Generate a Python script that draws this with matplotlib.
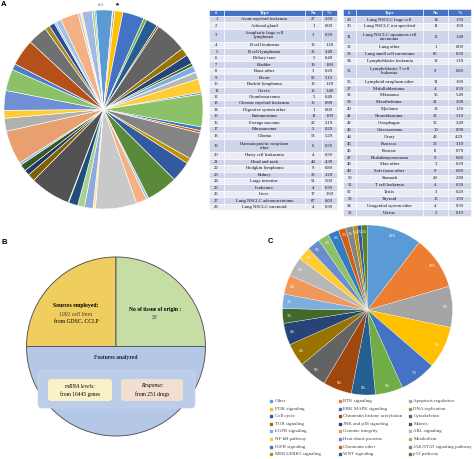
"""
Three-panel summary figure: cell-line tissue pie + tables (A),
dataset overview circle (B) and pathway pie with legend (C).
"""

import matplotlib

matplotlib.use("Agg")
import matplotlib.pyplot as plt
from matplotlib.patches import Wedge, FancyBboxPatch, Rectangle

W, H = 474, 459  # output size in pixels (dpi = 100)

SERIF = "Liberation Serif"
SANS = "Liberation Sans"

# ---------------------------------------------------------------------------
# Panel A: tissue of origin
# ---------------------------------------------------------------------------
tissue_types = [
    "Acute myeloid leukemia", "Adrenal gland", "Anaplastic large cell\nlymphoma",
    "B cell leukemia", "B cell lymphoma", "Biliary tract", "Bladder", "Bone other",
    "Breast", "Burkitt lymphoma", "Cervix", "Chondrosarcoma",
    "Chronic myeloid leukemia", "Digestive system other", "Endometrium",
    "Ewings sarcoma", "Fibrosarcoma", "Glioma", "Haematopoietic neoplasm\nother",
    "Hairy cell leukaemia", "Head and neck", "Hodgkin lymphoma", "Kidney",
    "Large intestine", "Leukemia", "Liver", "Lung NSCLC adenocarcinoma",
    "Lung NSCLC carcinoid", "Lung NSCLC large cell", "Lung NSCLC not specified",
    "Lung NSCLC squamous cell\ncarcinoma", "Lung other", "Lung small cell carcinoma",
    "Lymphoblastic leukemia", "Lymphoblastic T cell\nleukemia",
    "Lymphoid neoplasm other", "Medulloblastoma", "Melanoma", "Mesothelioma",
    "Myeloma", "Neuroblastoma", "Oesophagus", "Osteosarcoma", "Ovary", "Pancreas",
    "Prostate", "Rhabdomyosarcoma", "Skin other", "Soft tissue other", "Stomach",
    "T cell leukemia", "Testis", "Thyroid", "Urogenital system other", "Uterus",
]
tissue_counts = [
    27, 1, 3, 13, 35, 5, 19, 3, 52, 13, 15, 5, 10, 1, 11, 22, 3, 53, 6, 4,
    44, 9, 33, 51, 4, 17, 67, 4, 14, 11, 15, 1, 66, 12, 9, 11, 4, 55, 21, 13,
    32, 35, 10, 43, 32, 8, 9, 3, 9, 29, 4, 3, 16, 4, 2,
]
tissue_pct = [
    2.69, 0.09, 0.29, 1.29, 3.49, 0.49, 1.89, 0.29, 5.19, 1.29, 1.49, 0.49,
    0.99, 0.09, 1.09, 2.19, 0.29, 5.29, 0.59, 0.39, 4.39, 0.89, 3.29, 5.09,
    0.39, 1.69, 6.69, 0.39, 1.39, 1.09, 1.49, 0.09, 6.59, 1.19, 0.89, 1.09,
    0.39, 5.49, 2.09, 1.29, 3.19, 3.49, 0.99, 4.29, 3.19, 0.79, 0.89, 0.29,
    0.89, 2.89, 0.39, 0.29, 1.59, 0.39, 0.19,
]
tissue_colors = [
    "#5B9BD5", "#ED7D31", "#A5A5A5", "#FFC000", "#4472C4", "#70AD47",
    "#255E91", "#9E480E", "#636363", "#997300", "#264478", "#43682B",
    "#7CAFDD", "#F1975A", "#B7B7B7", "#FFCD33", "#698ED0", "#8CC168",
    "#327DC2", "#D26012", "#848484", "#BF9000", "#335AA1", "#5A8A39",
    "#9DC3E6", "#F4B183", "#C9C9C9", "#FFE699", "#8FAADC", "#A9D18E",
    "#1F4E79", "#843C0C", "#525252", "#7F6000", "#203864", "#385723",
    "#8CB4E0", "#E8A070", "#B0B0B0", "#FFCC33", "#6F8FD6", "#8CC168",
    "#4A7EC8", "#B5501A", "#707070", "#A88A20", "#2F4A8F", "#9CB8E0",
    "#9DC3E6", "#F4B183", "#C9C9C9", "#FFE699", "#A4B8E6", "#A9D18E",
    "#5B9BD5",
]

# ---------------------------------------------------------------------------
# Panel C: drug targets by pathway (share of drugs, %)
# ---------------------------------------------------------------------------
pathways = [
    "Other", "RTK signaling", "Apoptosis regulation",
    "PI3K signaling", "ERK MAPK signaling", "DNA replication",
    "Cell cycle", "Chromatin histone acetylation", "Cytoskeleton",
    "TOR signaling", "JNK and p38 signaling", "Mitosis",
    "EGFR signaling", "Genome integrity", "ABL signaling",
    "NF-kB pathway", "Heat shock proteins", "Metabolism",
    "IGFR signaling", "Chromatin other", "JAK/STAT signaling pathway",
    "MEK5/ERK5 signaling", "WNT signaling", "p53 pathway",
]
pathway_share = [
    10.5, 10.2, 7.9, 8.1, 7.0, 5.3, 4.6, 5.5, 5.5, 4.4, 4.2, 2.8,
    2.8, 3.7, 3.7, 2.5, 2.5, 2.1, 2.1, 1.4, 1.4, 0.8, 0.8, 1.2,
]
pathway_colors = [
    "#5B9BD5", "#ED7D31", "#A5A5A5", "#FFC000", "#4472C4", "#70AD47",
    "#255E91", "#9E480E", "#636363", "#997300", "#264478", "#43682B",
    "#7CAFDD", "#F1975A", "#B7B7B7", "#FFCD33", "#698ED0", "#8CC168",
    "#327DC2", "#D26012", "#848484", "#BF9000", "#335AA1", "#548235",
]


def pie_axes(fig, cx, cy, r):
    """Axes whose [-1, 1] box sits on a circle of radius r px at (cx, cy)."""
    return fig.add_axes([(cx - r) / W, 1 - (cy + r) / H, 2 * r / W, 2 * r / H])


def fit_pie(ax):
    # ax.pie pads the limits to +-1.25; pin them back to the unit circle
    ax.set_xlim(-1, 1)
    ax.set_ylim(-1, 1)
    ax.axis("off")


def draw_table(ax, first_id, names, counts, pcts, x_edges, y_top, unit):
    head_fc, row_a, row_b = "#4472C4", "#CFD5EA", "#E9EBF5"
    fs = 3.3
    for c, label in enumerate(["#", "Type", "No", "%"]):
        x0, x1 = x_edges[c], x_edges[c + 1]
        ax.add_patch(Rectangle((x0, y_top), x1 - x0, unit, fc=head_fc,
                               ec="white", lw=0.4))
        ax.text((x0 + x1) / 2, y_top + unit / 2, label, color="white",
                fontsize=fs, fontweight="bold", family=SERIF,
                ha="center", va="center")
    y = y_top + unit
    for k, name in enumerate(names):
        h = unit * (2 if "\n" in name else 1)
        fc = row_a if k % 2 == 0 else row_b
        cells = [str(first_id + k), name, str(counts[k]), f"{pcts[k]:.2f}"]
        for c, txt in enumerate(cells):
            x0, x1 = x_edges[c], x_edges[c + 1]
            ax.add_patch(Rectangle((x0, y), x1 - x0, h, fc=fc, ec="white",
                                   lw=0.4))
            ax.text((x0 + x1) / 2, y + h / 2, txt, fontsize=fs, family=SERIF,
                    ha="center", va="center", linespacing=1.0, color="#111111")
        y += h


fig = plt.figure(figsize=(W / 100, H / 100), dpi=100)
fig.patch.set_facecolor("white")

# Pixel-space overlay for tables, panel B and the legend.
ov = fig.add_axes([0, 0, 1, 1])
ov.set_xlim(0, W)
ov.set_ylim(H, 0)
ov.axis("off")

# --- Panel A --------------------------------------------------------------
axA = pie_axes(fig, 103.5, 109.5, 99.5)
axA.pie(tissue_counts, colors=tissue_colors, startangle=94.5,
        counterclock=False, wedgeprops=dict(edgecolor="white", linewidth=0.4))
fit_pie(axA)

ov.text(1, 5, "A", fontsize=5.5, fontweight="bold", family=SANS,
        ha="left", va="center")
ov.text(101.5, 4.5, "#:1", fontsize=3.5, family=SERIF, color="#555555",
        ha="center", va="center")
ov.annotate("", xy=(122, 6.2), xytext=(114.5, 3.2),
            arrowprops=dict(arrowstyle="-|>", lw=0.7, color="#222222",
                            mutation_scale=3))

draw_table(ov, 1, tissue_types[:28], tissue_counts[:28], tissue_pct[:28],
           [209, 223.7, 305, 321.7, 336.7], 9.5, 6.48)
draw_table(ov, 29, tissue_types[28:], tissue_counts[28:], tissue_pct[28:],
           [343, 356, 423, 448, 471], 9.2, 6.9)

# --- Panel B --------------------------------------------------------------
ov.text(2, 242, "B", fontsize=5.5, fontweight="bold", family=SANS,
        ha="left", va="center")
bx, by, br = 116, 346.5, 89.5
edge = "#5A5A5A"
ov.add_patch(Wedge((bx, by), br, 180, 270, fc="#EFCD5E", ec=edge, lw=0.7))
ov.add_patch(Wedge((bx, by), br, 270, 360, fc="#C6DDA6", ec=edge, lw=0.7))
ov.add_patch(Wedge((bx, by), br, 0, 180, fc="#B4C7E7", ec=edge, lw=0.7))

ov.text(76, 306, "Sources employed:", fontsize=4.1, fontweight="bold",
        family=SERIF, ha="center", va="center")
ov.text(76, 314, "1001 cell lines", fontsize=4.1, style="italic",
        family=SERIF, ha="center", va="center", color="#333333")
ov.text(76, 322, "from GDSC, CCLP", fontsize=4.1, family=SERIF,
        ha="center", va="center")
ov.text(155, 310, "No of tissue of origin :", fontsize=4.0, fontweight="bold",
        family=SERIF, ha="center", va="center")
ov.text(155, 317.5, "50", fontsize=4.0, style="italic", family=SERIF,
        ha="center", va="center", color="#333333")
ov.text(116, 358, "Features analyzed", fontsize=4.1, fontweight="bold",
        family=SERIF, ha="center", va="center", color="#1A2340")

ov.add_patch(FancyBboxPatch((38, 370), 157, 38,
                            boxstyle="round,pad=0,rounding_size=4",
                            fc="#BCCDEA", ec="#CAD6EC", lw=0.5))
ov.add_patch(FancyBboxPatch((48, 379), 64, 22,
                            boxstyle="round,pad=0,rounding_size=3",
                            fc="#FBF1C9", ec="none"))
ov.add_patch(FancyBboxPatch((121, 379), 62, 22,
                            boxstyle="round,pad=0,rounding_size=3",
                            fc="#F2DFD2", ec="none"))
ov.text(80, 386, "mRNA levels:", fontsize=4.0, style="italic", family=SERIF,
        ha="center", va="center")
ov.text(80, 394, "from 16445 genes", fontsize=4.0, family=SERIF,
        ha="center", va="center")
ov.text(152, 386, "Response:", fontsize=4.0, style="italic", family=SERIF,
        ha="center", va="center")
ov.text(152, 394, "from 251 drugs", fontsize=4.0, family=SERIF,
        ha="center", va="center")

# --- Panel C --------------------------------------------------------------
ov.text(267.5, 241.5, "C", fontsize=5.5, fontweight="bold", family=SANS,
        ha="left", va="center")
axC = pie_axes(fig, 367.5, 310, 85)
wedges, _, autotexts = axC.pie(
    pathway_share, colors=pathway_colors, startangle=90, counterclock=False,
    autopct="%1.0f%%", pctdistance=0.92,
    wedgeprops=dict(edgecolor="white", linewidth=0.2))
fit_pie(axC)
for t in autotexts:
    t.set_color("white")
    t.set_fontsize(2.6)
    t.set_family(SANS)

col_x = [271.5, 340, 410]
for i, name in enumerate(pathways):
    row, col = divmod(i, 3)
    y = 401 + 7.6 * row
    ov.plot(col_x[col], y, marker="s", ms=1.9, color=pathway_colors[i],
            linestyle="none")
    ov.text(col_x[col] + 3.5, y, name, fontsize=3.5, family=SERIF,
            color="#404040", ha="left", va="center")

fig.savefig("out.png", dpi=100)
